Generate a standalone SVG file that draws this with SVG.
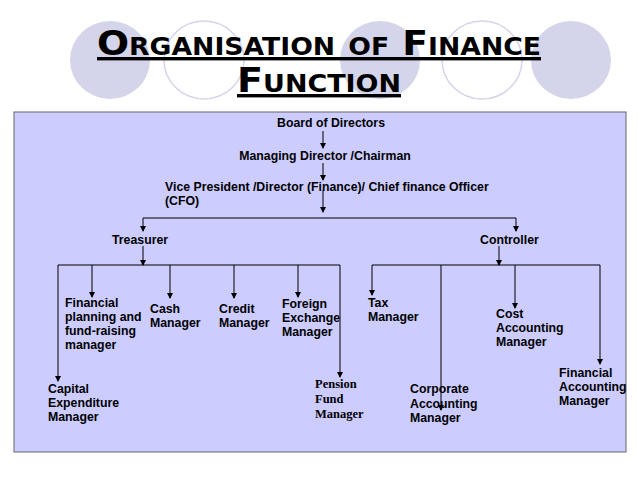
<svg xmlns="http://www.w3.org/2000/svg" width="638" height="478" viewBox="0 0 638 478">
<style>
.t{font-family:"Liberation Sans",Arial,sans-serif;font-weight:bold;font-size:12.3px;fill:#000}
.s{font-family:"Liberation Serif","Times New Roman",serif;font-weight:bold;font-size:12.5px;fill:#000}
.ttl{font-family:"DejaVu Sans","Liberation Sans",sans-serif;font-weight:bold;font-size:34px;fill:#000;text-decoration:underline;font-variant:small-caps}
.c line{stroke:#000;stroke-width:1;fill:none}
.c .a{marker-end:url(#ah)}
</style>
<defs><marker id="ah" viewBox="0 0 6 6" refX="5" refY="3" markerWidth="6" markerHeight="6" orient="auto" markerUnits="userSpaceOnUse"><path d="M0,0L6,3L0,6z" fill="#000"/></marker></defs>
<rect width="638" height="478" fill="#fff"/>
<g id="deco">
<ellipse cx="110" cy="60" rx="40" ry="39" fill="#d4d4ea"/>
<ellipse cx="204" cy="60" rx="40" ry="39" fill="none" stroke="#d4d4ea" stroke-width="1.5"/>
<ellipse cx="380" cy="60" rx="40" ry="39" fill="#d4d4ea"/>
<ellipse cx="482" cy="60" rx="40" ry="39" fill="none" stroke="#d4d4ea" stroke-width="1.5"/>
<ellipse cx="571" cy="60" rx="40" ry="39" fill="#d4d4ea"/>
</g>
<g id="title">
<text class="ttl" x="97" y="55" textLength="444" lengthAdjust="spacingAndGlyphs">Organisation of Finance</text>
<text class="ttl" x="237" y="92" textLength="164" lengthAdjust="spacingAndGlyphs">Function</text>
</g>
<rect x="14" y="112" width="612" height="340" fill="#ccccff" stroke="#666" stroke-width="1"/>
<g class="c" id="connectors">
<line class="a" x1="323" y1="131" x2="323" y2="148"/>
<line class="a" x1="323" y1="163" x2="323" y2="180"/>
<line class="a" x1="323" y1="190" x2="323" y2="212"/>
<line x1="143" y1="218" x2="516" y2="218"/>
<line class="a" x1="143" y1="218" x2="143" y2="231"/>
<line class="a" x1="516" y1="218" x2="516" y2="231"/>
<line class="a" x1="143" y1="246" x2="143" y2="265"/>
<line x1="58" y1="265" x2="340" y2="265"/>
<line class="a" x1="58" y1="265" x2="58" y2="381"/>
<line class="a" x1="92" y1="265" x2="92" y2="297"/>
<line class="a" x1="170" y1="265" x2="170" y2="298"/>
<line class="a" x1="234" y1="265" x2="234" y2="298"/>
<line class="a" x1="298" y1="265" x2="298" y2="297"/>
<line class="a" x1="340" y1="265" x2="340" y2="377"/>
<line class="a" x1="499" y1="246" x2="499" y2="265"/>
<line x1="372" y1="265" x2="600" y2="265"/>
<line class="a" x1="372" y1="265" x2="372" y2="295"/>
<line class="a" x1="441" y1="265" x2="441" y2="410"/>
<line class="a" x1="515" y1="265" x2="515" y2="308"/>
<line class="a" x1="600" y1="265" x2="600" y2="364"/>
</g>
<g id="board"><text class="t" x="331" y="127" text-anchor="middle">Board of Directors</text></g>
<g id="md"><text class="t" x="325" y="160" text-anchor="middle">Managing Director /Chairman</text></g>
<g id="cfo"><text class="t" x="165" y="191">Vice President /Director (Finance)/ Chief finance Officer</text><text class="t" x="165" y="205">(CFO)</text></g>
<g id="treasurer"><text class="t" x="112" y="244">Treasurer</text></g>
<g id="controller"><text class="t" x="480" y="244">Controller</text></g>
<g id="fin"><text class="t" x="65" y="307">Financial</text><text class="t" x="65" y="321">planning and</text><text class="t" x="65" y="335">fund-raising</text><text class="t" x="65" y="349">manager</text></g>
<g id="cash"><text class="t" x="150" y="313">Cash</text><text class="t" x="150" y="327">Manager</text></g>
<g id="credit"><text class="t" x="219" y="313">Credit</text><text class="t" x="219" y="327">Manager</text></g>
<g id="forex"><text class="t" x="282" y="308">Foreign</text><text class="t" x="282" y="322">Exchange</text><text class="t" x="282" y="336">Manager</text></g>
<g id="pension"><text class="s" x="315" y="388">Pension</text><text class="s" x="315" y="403">Fund</text><text class="s" x="315" y="418">Manager</text></g>
<g id="capex"><text class="t" x="48" y="393">Capital</text><text class="t" x="48" y="407">Expenditure</text><text class="t" x="48" y="421">Manager</text></g>
<g id="tax"><text class="t" x="368" y="307">Tax</text><text class="t" x="368" y="321">Manager</text></g>
<g id="corp"><text class="t" x="410" y="393">Corporate</text><text class="t" x="410" y="408">Accounting</text><text class="t" x="410" y="422">Manager</text></g>
<g id="cost"><text class="t" x="496" y="318">Cost</text><text class="t" x="496" y="332">Accounting</text><text class="t" x="496" y="346">Manager</text></g>
<g id="finacc"><text class="t" x="559" y="377">Financial</text><text class="t" x="559" y="391">Accounting</text><text class="t" x="559" y="405">Manager</text></g>
</svg>
